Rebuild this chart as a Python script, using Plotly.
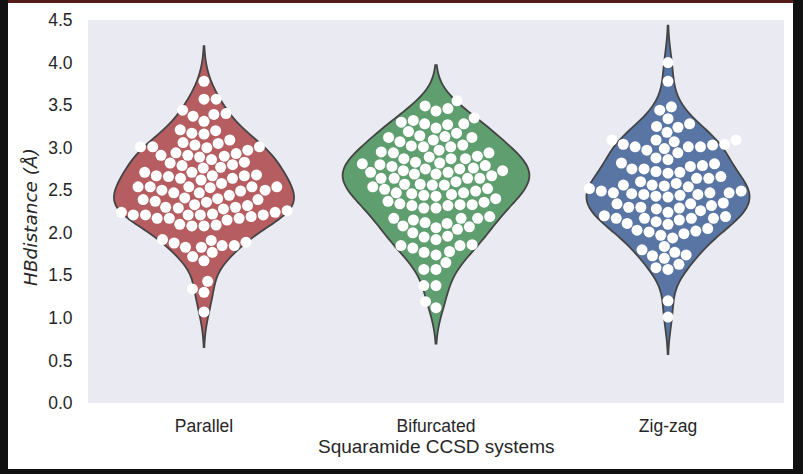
import numpy as np
import plotly.graph_objects as go

# ---------------- data ----------------
categories = ["Parallel", "Bifurcated", "Zig-zag"]

parallel = [3.78, 3.57, 3.57, 3.44, 3.37, 3.31, 3.39, 3.40, 3.20, 3.16, 3.17, 3.21,
            3.06, 3.05, 3.03, 3.01, 2.97, 3.01, 3.00, 3.09, 3.01, 2.94, 2.93, 2.90,
            2.86, 2.89, 2.91, 2.91, 2.83, 2.80, 2.76, 2.79, 2.77, 2.82, 2.68, 2.67,
            2.66, 2.62, 2.71, 2.67, 2.71, 2.64, 2.64, 2.67, 2.54, 2.54, 2.54, 2.58,
            2.53, 2.54, 2.50, 2.50, 2.54, 2.47, 2.49, 2.44, 2.47, 2.41, 2.40, 2.36,
            2.39, 2.39, 2.37, 2.30, 2.30, 2.28, 2.24, 2.32, 2.33, 2.26, 2.29, 2.22,
            2.21, 2.17, 2.15, 2.21, 2.21, 2.21, 2.17, 2.17, 2.19, 2.21, 2.24, 2.10,
            2.08, 2.08, 2.09, 1.89, 1.85, 1.83, 1.83, 1.91, 1.85, 1.88, 1.92, 1.77,
            1.72, 1.67, 1.43, 1.34, 1.30, 1.07]

bifurcated = [3.55, 3.49, 3.46, 3.43, 3.35, 3.32, 3.30, 3.27, 3.28, 3.28, 3.23,
              3.19, 3.17, 3.14, 3.13, 3.12, 3.12, 3.09, 3.07, 3.01, 3.01, 3.02,
              3.03, 2.95, 2.94, 2.97, 2.94, 2.90, 2.87, 2.87, 2.87, 2.89, 2.81,
              2.82, 2.80, 2.83, 2.79, 2.78, 2.76, 2.75, 2.75, 2.73, 2.71, 2.73,
              2.69, 2.69, 2.71, 2.67, 2.64, 2.64, 2.60, 2.64, 2.64, 2.57, 2.56,
              2.54, 2.57, 2.56, 2.52, 2.51, 2.47, 2.45, 2.44, 2.46, 2.47, 2.49,
              2.43, 2.40, 2.37, 2.34, 2.33, 2.32, 2.29, 2.29, 2.32, 2.33, 2.36,
              2.15, 2.17, 2.17, 2.17, 2.19, 2.07, 2.04, 2.11, 2.06, 2.08, 2.12,
              1.95, 2.00, 1.92, 1.96, 1.85, 1.85, 1.86, 1.77, 1.74, 1.78, 1.82,
              1.65, 1.57, 1.57, 1.38, 1.38, 1.19, 1.12]

zigzag = [4.00, 3.78, 3.44, 3.48, 3.34, 3.24, 3.25, 3.28, 3.18, 3.09, 3.07, 3.09,
          3.04, 3.01, 2.99, 2.97, 3.01, 2.94, 3.01, 3.03, 3.04, 3.09, 2.86, 2.88,
          2.82, 2.79, 2.75, 2.75, 2.78, 2.81, 2.66, 2.71, 2.64, 2.70, 2.72, 2.64,
          2.60, 2.58, 2.55, 2.52, 2.56, 2.56, 2.54, 2.49, 2.47, 2.46, 2.45, 2.43,
          2.42, 2.44, 2.45, 2.47, 2.47, 2.49, 2.35, 2.34, 2.30, 2.29, 2.26, 2.24,
          2.28, 2.30, 2.32, 2.34, 2.20, 2.17, 2.17, 2.13, 2.11, 2.15, 2.17, 2.17,
          2.19, 2.10, 2.05, 2.02, 1.99, 1.94, 1.97, 2.01, 2.03, 1.84, 1.80, 1.77,
          1.73, 1.74, 1.70, 1.59, 1.57, 1.63, 1.20, 1.01]

y_ticks = [0.0, 0.5, 1.0, 1.5, 2.0, 2.5, 3.0, 3.5, 4.0, 4.5]

# ---------------- style ----------------
W, H = 803, 474
L, R, T, B = 88, 19, 20, 71
PW, PH = W - L - R, H - T - B
Y_RANGE = [0, 4.5]
X_RANGE = [-0.5, 2.5]
fill_colors = ["#B55D60", "#5F9E6E", "#5875A4"]
violin_widths = [0.776, 0.804, 0.703]
MARKER = 11
TXT = "#262626"
SANS = "Liberation Sans, Arial, sans-serif"

px_per_x = PW / (X_RANGE[1] - X_RANGE[0])
px_per_y = PH / (Y_RANGE[1] - Y_RANGE[0])


def beeswarm(values, r):
    """seaborn-like swarm: returns x offsets (pixels) for each value."""
    vals = np.asarray(values, float)
    order = np.argsort(vals, kind="stable")
    ys = vals[order] * px_per_y
    placed = []  # (x, y)
    for y in ys:
        neighbors = [p for p in placed if abs(y - p[1]) < 2 * r]
        cands = [0.0]
        left_first = True
        for (xj, yj) in neighbors:
            dy = y - yj
            dx = np.sqrt(max((2 * r) ** 2 - dy ** 2, 0)) * 1.05
            pair = [xj - dx, xj + dx] if left_first else [xj + dx, xj - dx]
            cands.extend(pair)
            left_first = not left_first
        cands = sorted(cands, key=lambda c: abs(c))
        chosen = cands[0]
        for c in cands:
            if all((c - xj) ** 2 + (y - yj) ** 2 >= (2 * r) ** 2 - 1e-9 for xj, yj in neighbors):
                chosen = c
                break
        placed.append((chosen, y))
    offs = np.empty(len(vals))
    offs[order] = [p[0] for p in placed]
    return offs


fig = go.Figure()
series = [parallel, bifurcated, zigzag]
for i, vals in enumerate(series):
    arr = np.asarray(vals, float)
    bw = arr.std(ddof=1) * len(arr) ** (-1 / 5)  # Scott's rule (seaborn default)
    fig.add_trace(go.Violin(
        x=[i] * len(arr), y=arr, name=categories[i],
        width=violin_widths[i], bandwidth=bw, spanmode="soft", scalemode="width",
        fillcolor=fill_colors[i], line=dict(color="#444444", width=1.8),
        points=False, box_visible=False, meanline_visible=False,
        hoverinfo="skip", showlegend=False, opacity=1,
    ))

for i, vals in enumerate(series):
    offs = beeswarm(vals, MARKER / 2 + 0.3)
    fig.add_trace(go.Scatter(
        x=i + offs / px_per_x, y=vals, mode="markers",
        marker=dict(color="white", size=MARKER, line=dict(width=0)),
        hoverinfo="skip", showlegend=False,
    ))


def xp(px):
    return (px - L) / PW


def yp(py):
    return (H - B - py) / PH


shapes = [
    dict(type="rect", xref="paper", yref="paper", x0=xp(8), x1=xp(793), y0=yp(469), y1=yp(3),
         fillcolor="white", line=dict(width=0), layer="below"),
    dict(type="rect", xref="paper", yref="paper", x0=xp(8), x1=xp(793), y0=yp(3), y1=yp(0),
         fillcolor="#541c19", line=dict(width=0), layer="below"),
    dict(type="rect", xref="paper", yref="paper", x0=0, x1=1, y0=0, y1=1,
         fillcolor="#EAEAF2", line=dict(width=0), layer="below"),
]

annotations = [
    dict(text="<i>HBdistance (Å)</i>", textangle=-90, xref="paper", yref="paper",
         x=xp(30), y=yp(217), xanchor="center", yanchor="middle", showarrow=False,
         font=dict(family="DejaVu Sans", size=18.5, color=TXT)),
    dict(text="Squaramide CCSD systems", xref="paper", yref="paper",
         x=0.5, y=yp(446), xanchor="center", yanchor="middle", showarrow=False,
         font=dict(family=SANS, size=19, color=TXT)),
]

fig.update_layout(
    width=W, height=H, margin=dict(l=L, r=R, t=T, b=B, autoexpand=False),
    paper_bgcolor="#111111", plot_bgcolor="#EAEAF2",
    violinmode="overlay", shapes=shapes, annotations=annotations,
    font=dict(family=SANS, size=17.5, color=TXT),
    xaxis=dict(range=X_RANGE, tickmode="array", tickvals=list(range(len(categories))),
               ticktext=categories, showgrid=False, zeroline=False, showline=False,
               ticks="outside", ticklen=7, tickcolor="rgba(0,0,0,0)",
               tickfont=dict(family=SANS, size=17.5, color=TXT), automargin=False),
    yaxis=dict(range=Y_RANGE, tickmode="array", tickvals=y_ticks,
               ticktext=[f"{v:.1f}" for v in y_ticks], showgrid=False, zeroline=False,
               showline=False, ticks="outside", ticklen=11, tickcolor="rgba(0,0,0,0)",
               tickfont=dict(family=SANS, size=17.5, color=TXT), automargin=False),
)

fig.write_html("out.html", config={"displayModeBar": False},
               post_script="document.body.style.margin='0px';document.body.style.padding='0px';")
